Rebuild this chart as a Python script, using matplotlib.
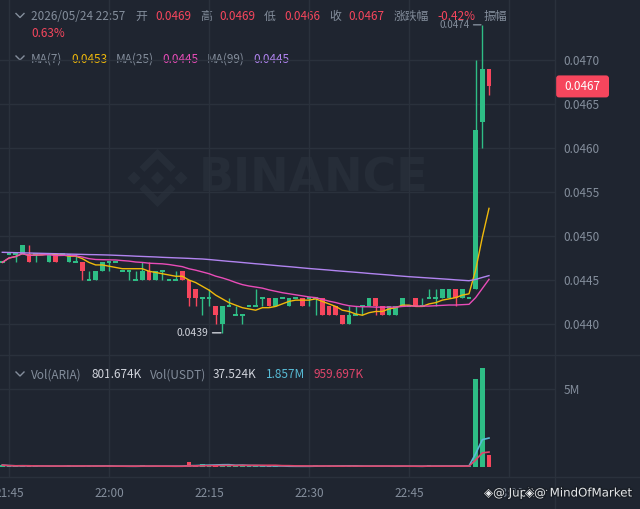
import numpy as np
import pandas as pd
import matplotlib
matplotlib.use("Agg")
import matplotlib.pyplot as plt
import matplotlib.patheffects as pe
from matplotlib.patches import FancyBboxPatch, Polygon

plt.rcParams['font.family'] = ['Noto Sans CJK SC', 'DejaVu Sans']

BG = '#1f2530'
GRID = '#2a313c'
GRAY = '#848e9c'
LIGHT = '#d1d4dc'
GREEN = '#2ebd85'
RED = '#f6465d'
MA7_C = '#f0b90b'
MA25_C = '#e84cb8'
MA99_C = '#b184f0'
VMA1_C = '#58bcd6'
VMA2_C = '#e0456b'

# 1 minute candles, ARIA/USDT, from 21:44
start = "2026-05-24 21:44"
opens = [0.0447, 0.0448, 0.0448, 0.0448, 0.0448, 0.0448, 0.0448, 0.0447, 0.0448, 0.0448,
         0.0447, 0.0447, 0.0447, 0.0445, 0.0445, 0.0446, 0.0447, 0.0447, 0.0446, 0.0446,
         0.0445, 0.0445, 0.0446, 0.0445, 0.0446, 0.0445, 0.0445, 0.0446, 0.0445, 0.0444,
         0.0443, 0.0443, 0.0442, 0.0440, 0.0442, 0.0441, 0.0441, 0.0442, 0.0442, 0.0443,
         0.0443, 0.0442, 0.0443, 0.0442, 0.0443, 0.0443, 0.0443, 0.0443, 0.0443, 0.0442,
         0.0442, 0.0441, 0.0440, 0.0441, 0.0442, 0.0442, 0.0443, 0.0442, 0.0441, 0.0441,
         0.0442, 0.0442, 0.0443, 0.0442, 0.0443, 0.0443, 0.0443, 0.0443, 0.0444, 0.0443,
         0.0443, 0.0444, 0.0463, 0.0469]
highs = [0.0447, 0.0448, 0.0448, 0.0449, 0.0449, 0.0448, 0.0448, 0.0448, 0.0448, 0.0448,
         0.0448, 0.0448, 0.0447, 0.0446, 0.0446, 0.0447, 0.0447, 0.0447, 0.0446, 0.0446,
         0.0446, 0.0447, 0.0447, 0.0446, 0.0446, 0.0445, 0.0446, 0.0446, 0.0445, 0.0444,
         0.0443, 0.0444, 0.0442, 0.0442, 0.0443, 0.0442, 0.0441, 0.0442, 0.0444, 0.0443,
         0.0443, 0.0443, 0.0443, 0.0443, 0.0443, 0.0443, 0.0443, 0.0443, 0.0443, 0.0442,
         0.0442, 0.0441, 0.0442, 0.0442, 0.0442, 0.0443, 0.0443, 0.0442, 0.0442, 0.0442,
         0.0443, 0.0442, 0.0443, 0.0443, 0.0444, 0.0444, 0.0444, 0.0444, 0.0444, 0.0444,
         0.0443, 0.0470, 0.0474, 0.0469]
lows = [0.0447, 0.0448, 0.0447, 0.0448, 0.0447, 0.0447, 0.0448, 0.0447, 0.0447, 0.0448,
        0.0447, 0.0447, 0.0445, 0.0445, 0.0445, 0.0446, 0.0446, 0.0447, 0.0446, 0.0445,
        0.0445, 0.0445, 0.0445, 0.0445, 0.0445, 0.0445, 0.0445, 0.0445, 0.0442, 0.0442,
        0.0441, 0.0442, 0.0440, 0.0439, 0.0442, 0.0441, 0.0440, 0.0442, 0.0442, 0.0442,
        0.0442, 0.0442, 0.0443, 0.0442, 0.0443, 0.0442, 0.0442, 0.0441, 0.0441, 0.0441,
        0.0441, 0.0440, 0.0440, 0.0441, 0.0441, 0.0442, 0.0441, 0.0441, 0.0441, 0.0441,
        0.0442, 0.0442, 0.0442, 0.0442, 0.0443, 0.0442, 0.0443, 0.0443, 0.0442, 0.0443,
        0.0443, 0.0444, 0.0460, 0.0466]
closes = [0.0447, 0.0448, 0.0448, 0.0449, 0.0447, 0.0448, 0.0448, 0.0448, 0.0447, 0.0448,
          0.0448, 0.0447, 0.0446, 0.0445, 0.0446, 0.0447, 0.0447, 0.0447, 0.0446, 0.0446,
          0.0445, 0.0446, 0.0445, 0.0446, 0.0446, 0.0445, 0.0445, 0.0445, 0.0443, 0.0443,
          0.0443, 0.0443, 0.0441, 0.0442, 0.0442, 0.0441, 0.0441, 0.0442, 0.0442, 0.0443,
          0.0442, 0.0443, 0.0443, 0.0443, 0.0443, 0.0442, 0.0443, 0.0443, 0.0441, 0.0441,
          0.0441, 0.0440, 0.0441, 0.0441, 0.0442, 0.0443, 0.0442, 0.0441, 0.0442, 0.0442,
          0.0443, 0.0442, 0.0442, 0.0442, 0.0443, 0.0443, 0.0444, 0.0444, 0.0443, 0.0444,
          0.0443, 0.0462, 0.0469, 0.0467]
volumes = [120e3, 60e3, 50e3, 90e3, 70e3, 40e3, 30e3, 60e3, 55e3, 35e3,
           150e3, 40e3, 80e3, 50e3, 60e3, 70e3, 45e3, 40e3, 30e3, 45e3,
           35e3, 110e3, 60e3, 50e3, 40e3, 30e3, 35e3, 50e3, 330e3, 90e3,
           200e3, 90e3, 110e3, 150e3, 70e3, 60e3, 160e3, 50e3, 60e3, 40e3,
           80e3, 50e3, 30e3, 45e3, 25e3, 55e3, 40e3, 140e3, 90e3, 60e3,
           50e3, 70e3, 80e3, 40e3, 35e3, 60e3, 70e3, 50e3, 45e3, 55e3,
           60e3, 30e3, 50e3, 35e3, 130e3, 60e3, 70e3, 50e3, 65e3, 45e3,
           40e3, 5650e3, 6350e3, 801.674e3]
# MA(99) (history before 21:44 is not shown)
ma99 = [0.044815, 0.044813, 0.044811, 0.044809, 0.044807, 0.044805, 0.044803, 0.044801, 0.044799, 0.044797,
        0.044795, 0.044793, 0.044791, 0.044789, 0.044788, 0.044786, 0.044784, 0.044781, 0.044778, 0.044775,
        0.044771, 0.044768, 0.044765, 0.044762, 0.044758, 0.044755, 0.044752, 0.044749, 0.044746, 0.044742,
        0.044739, 0.044733, 0.044726, 0.044719, 0.044712, 0.044706, 0.044699, 0.044692, 0.044685, 0.044679,
        0.044672, 0.044665, 0.044658, 0.044652, 0.044645, 0.044638, 0.044631, 0.044625, 0.044619, 0.044613,
        0.044606, 0.044600, 0.044594, 0.044588, 0.044582, 0.044575, 0.044569, 0.044563, 0.044557, 0.044550,
        0.044544, 0.044538, 0.044533, 0.044528, 0.044523, 0.044518, 0.044513, 0.044508, 0.044502, 0.044497,
        0.044492, 0.044507, 0.044529, 0.044550]
price_ticks = [0.0440, 0.0445, 0.0450, 0.0455, 0.0460, 0.0465, 0.0470]

o = np.array(opens)
h = np.array(highs)
l = np.array(lows)
c = np.array(closes)
v = np.array(volumes)
times = pd.date_range(start, periods=len(c), freq="min")
x = np.arange(len(c))

W, H = 640, 509
fig = plt.figure(figsize=(W / 100, H / 100), dpi=100, facecolor=BG)

# background overlay in pixel coords (y down)
bg = fig.add_axes([0, 0, 1, 1], zorder=0)
bg.set_xlim(0, W)
bg.set_ylim(H, 0)
bg.axis('off')

ax = fig.add_axes([0, 1 - 355 / H, 555 / W, 355 / H], zorder=2)
vax = fig.add_axes([0, 1 - 477 / H, 555 / W, 122 / H], zorder=2)
for a in (ax, vax):
    a.set_facecolor('none')
    for s in a.spines.values():
        s.set_visible(False)
    a.set_xlim(-0.345, 82.9)

# time ticks
tt = pd.date_range("2026-05-24 21:45", "2026-05-24 23:00", freq="15min")
tpos = (tt - times[0]) / pd.Timedelta(minutes=1)
for a in (ax, vax):
    a.set_xticks(tpos)
    a.grid(axis='both', color=GRID, lw=1)
    a.set_axisbelow(True)
ax.tick_params(axis='x', length=0, labelbottom=False)
vax.set_xticklabels([t.strftime("%H:%M") for t in tt])
vax.tick_params(axis='x', length=0, pad=7, labelsize=8.5, labelcolor=GRAY)

# price axis
ax.set_ylim(0.043648, 0.047682)
ax.yaxis.tick_right()
ax.set_yticks(price_ticks)
ax.set_yticklabels([f"{p:.4f}" for p in price_ticks])
ax.tick_params(axis='y', length=0, pad=6, labelsize=8.5, labelcolor=GRAY)

up = c >= o
cols = np.where(up, GREEN, RED)
doji = np.isclose(o, c)
body = np.where(doji, 0.000022, np.abs(c - o))
bottom = np.where(doji, o - 0.000011, np.minimum(o, c))
ax.vlines(x, l, h, colors=cols, lw=1, zorder=3)
ax.bar(x, body, bottom=bottom, width=0.7, color=cols, zorder=4)

cs = pd.Series(c)
ax.plot(x, cs.rolling(7, min_periods=1).mean(), color=MA7_C, lw=1, zorder=5)
ax.plot(x, cs.rolling(25, min_periods=1).mean(), color=MA25_C, lw=1, zorder=5)
ax.plot(x, ma99, color=MA99_C, lw=1, zorder=5)

imax, imin = int(h.argmax()), int(l.argmin())
ax.annotate(f"{h[imax]:.4f}", xy=(imax, h[imax]), xytext=(-13, 0), textcoords='offset pixels',
            ha='right', va='center', fontsize=7, color=GRAY,
            arrowprops=dict(arrowstyle='-', color=GRAY, lw=1, shrinkA=1, shrinkB=1))
ax.annotate(f"{l[imin]:.4f}", xy=(imin, l[imin]), xytext=(-14, 0), textcoords='offset pixels',
            ha='right', va='center', fontsize=7.5, color=LIGHT,
            arrowprops=dict(arrowstyle='-', color=LIGHT, lw=1, shrinkA=1, shrinkB=1))

# volume
vax.set_ylim(-0.64e6, 7.18e6)
vax.yaxis.tick_right()
vax.set_yticks([5e6])
vax.set_yticklabels(["5M"])
vax.tick_params(axis='y', length=0, pad=6, labelsize=8.5, labelcolor=GRAY)
vax.bar(x, v, width=0.7, color=cols, zorder=3)
vs = pd.Series(v)
vax.plot(x, vs.rolling(7, min_periods=1).mean(), color=VMA1_C, lw=1.2, zorder=4)
vax.plot(x, vs.rolling(14, min_periods=1).mean(), color=VMA2_C, lw=1.2, zorder=4)

# BINANCE watermark
WM = '#262d38'
bg.text(199, 179, "BINANCE", family='DejaVu Sans', fontsize=33, weight='bold',
        color=WM, ha='left', va='center')


def diamond(cx, cy, r):
    return [(cx - r, cy), (cx, cy - r), (cx + r, cy), (cx, cy + r)]


def chevron(cx, ay, w, t, d):
    k = t / np.sqrt(2)
    return [(cx - w, ay + d * w), (cx, ay), (cx + w, ay + d * w), (cx + w - k, ay + d * (w + k)),
            (cx, ay + d * t * np.sqrt(2)), (cx - w + k, ay + d * (w + k))]


for pts in (diamond(157.5, 178, 6.5), diamond(134, 178, 6.5), diamond(181, 178, 6.5),
            chevron(157.5, 149, 18, 7, 1), chevron(157.5, 207, 18, 7, -1)):
    bg.add_patch(Polygon(pts, closed=True, fc=WM, ec='none'))


def chev(y):
    bg.plot([16, 20, 24], [y - 2, y + 2, y - 2], color=GRAY, lw=1)


# header rows
chev(15.5)
row1 = [(31, "2026/05/24 22:57", GRAY), (135, "开", GRAY), (155, "0.0469", RED),
        (200, "高", GRAY), (219, "0.0469", RED), (264, "低", GRAY), (284, "0.0466", RED),
        (329, "收", GRAY), (348, "0.0467", RED), (394, "涨跌幅", GRAY), (437, "-0.42%", RED),
        (484, "振幅", GRAY)]
for xp, s, col in row1:
    bg.text(xp, 16.5, s, color=col, fontsize=8.5, ha='left', va='center')
bg.text(31, 33, "0.63%", color=RED, fontsize=8.5, ha='left', va='center')

chev(58)
row3 = [(31, "MA(7)", GRAY), (71, "0.0453", MA7_C), (116, "MA(25)", GRAY), (162, "0.0445", MA25_C),
        (207, "MA(99)", GRAY), (253, "0.0445", MA99_C)]
for xp, s, col in row3:
    bg.text(xp, 59, s, color=col, fontsize=8.5, ha='left', va='center')

chev(374)
row_v = [(31, "Vol(ARIA)", GRAY), (91, "801.674K", LIGHT), (150, "Vol(USDT)", GRAY),
         (213, "37.524K", LIGHT), (266, "1.857M", VMA1_C), (313, "959.697K", VMA2_C)]
for xp, s, col in row_v:
    bg.text(xp, 375, s, color=col, fontsize=8.5, ha='left', va='center')

# top overlay: separators, last price tag, corner watermark (pixel coords, y up)
tp = fig.add_axes([0, 0, 1, 1], zorder=5)
tp.set_xlim(0, W)
tp.set_ylim(0, H)
tp.axis('off')
tp.axhline(H - 355, color=GRID, lw=1)
tp.axhline(H - 477, color=GRID, lw=1)
tp.axvline(555, color=GRID, lw=1)

fig.canvas.draw()
yd = ax.transData.transform((0, c[-1]))[1]
tp.add_patch(FancyBboxPatch((556, yd - 11), 53, 22, boxstyle="round,pad=0,rounding_size=3",
                            fc=RED, ec='none'))
tp.text(582.5, yd, f"{c[-1]:.4f}", color='white', fontsize=8.5, ha='center', va='center')

stroke = [pe.withStroke(linewidth=2, foreground='#1a1f27')]
tp.text(484, H - 493, "◈@ Jupiter", color='#e6e8ea', fontsize=8.5, ha='left', va='center',
        family=['DejaVu Sans'], path_effects=stroke)
tp.text(525, H - 493, "◈@ MindOfMarket", color='#e6e8ea', fontsize=8.5, ha='left', va='center',
        family=['DejaVu Sans'], path_effects=stroke)

fig.savefig("out.png", dpi=100, facecolor=BG)
